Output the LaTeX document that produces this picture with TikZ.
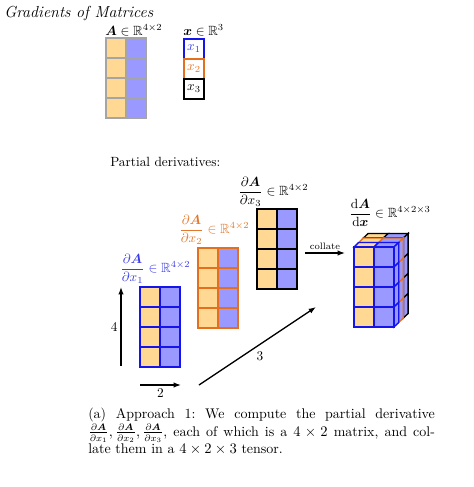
\documentclass[tikz,border=0pt]{standalone}
\usepackage{amsmath,amssymb}
\usetikzlibrary{arrows.meta}
\definecolor{cello}{RGB}{255,217,148}
\definecolor{cellb}{RGB}{153,153,255}
\definecolor{bordo}{RGB}{228,112,30}
\definecolor{bordb}{RGB}{20,20,235}
\definecolor{bordg}{RGB}{165,165,165}
\definecolor{labb}{RGB}{60,60,230}
\definecolor{labo}{RGB}{225,120,45}
\newcommand\drawmat[3]{%
  \foreach \j in {0,...,3}{%
    \filldraw[fill=cello,draw=#3,cellline] (#1,#2+20*\j) rectangle ++(20,20);
    \filldraw[fill=cellb,draw=#3,cellline] (#1+20,#2+20*\j) rectangle ++(20,20);
  }}
\begin{document}
\begin{tikzpicture}[x=0.75pt,y=-0.75pt,
  cellline/.style={line width=1pt},
  arr/.style={-{Latex[length=5.5pt,width=4pt]}, line width=1pt},
  lab/.style={inner sep=0pt, anchor=west, font=\normalsize},
  num/.style={inner sep=2pt, font=\normalsize}]
\useasboundingbox (0,0) rectangle (474,487);

\node[anchor=base west, inner sep=0pt, font=\fontsize{12}{14}\selectfont\itshape] (title) at (4,17) {Gradients of Matrices};

% matrix A
\drawmat{106}{38}{bordg}
\node[lab] (alab) at (105,30) {$\boldsymbol{A}\in\mathbb{R}^{4\times 2}$};

% vector x
\node[lab] (xlab) at (183,30) {$\boldsymbol{x}\in\mathbb{R}^{3}$};
\draw[draw=bordb, cellline, fill=white] (184,39) rectangle (204,59);
\draw[draw=bordo, cellline, fill=white] (184,59) rectangle (204,79);
\draw[draw=black, cellline, fill=white] (184,79) rectangle (204,99);
\node[text=labb, inner sep=0pt] (x1) at (194,49) {$x_1$};
\node[text=labo, inner sep=0pt] (x2) at (194,69) {$x_2$};
\node[text=black, inner sep=0pt] (x3) at (194,89) {$x_3$};

\node[anchor=west, inner sep=0pt] (pd) at (110,162) {Partial derivatives:};

% partial derivative matrices
\drawmat{257}{209}{black}
\drawmat{198}{248}{bordo}
\drawmat{140}{287}{bordb}
\node[lab, text=labb] (l1) at (120,269) {$\dfrac{\partial \boldsymbol{A}}{\partial x_1}\in\mathbb{R}^{4\times 2}$};
\node[lab, text=labo] (l2) at (179,230) {$\dfrac{\partial \boldsymbol{A}}{\partial x_2}\in\mathbb{R}^{4\times 2}$};
\node[lab, text=black] (l3) at (238,192) {$\dfrac{\partial \boldsymbol{A}}{\partial x_3}\in\mathbb{R}^{4\times 2}$};

% axis arrows
\coordinate (a4s) at (121,366);
\coordinate (a4e) at (121,287);
\draw[arr] (a4s) -- node[num, left] {4} (a4e);
\coordinate (a2s) at (140,385);
\coordinate (a2e) at (181,385);
\draw[arr] (a2s) -- node[num, below] {2} (a2e);
\coordinate (a3s) at (199,385);
\coordinate (a3e) at (316,307);
\draw[arr] (a3s) -- node[num, pos=0.52, below=3pt] {3} (a3e);

% collate
\coordinate (cs) at (305,253);
\coordinate (ce) at (345,253);
\draw[arr] (cs) -- node[above=1pt, inner sep=1pt, font=\scriptsize] {collate} (ce);

% tensor
\foreach \k/\c in {2/black,1/bordo,0/bordb}{%
  \filldraw[fill=cello,draw=\c,cellline] (354+4.7*\k,247-4.5*\k) -- ++(20,0) -- ++(4.7,-4.5) -- ++(-20,0) -- cycle;
  \filldraw[fill=cellb,draw=\c,cellline] (374+4.7*\k,247-4.5*\k) -- ++(20,0) -- ++(4.7,-4.5) -- ++(-20,0) -- cycle;
  \foreach \j in {0,...,3}{%
    \filldraw[fill=cellb,draw=\c,cellline] (394+4.7*\k,247-4.5*\k+20*\j) -- ++(0,20) -- ++(4.7,-4.5) -- ++(0,-20) -- cycle;
    \filldraw[fill=cello,draw=\c,cellline] (354+4.7*\k,247-4.5*\k+20*\j) rectangle ++(20,20);
    \filldraw[fill=cellb,draw=\c,cellline] (374+4.7*\k,247-4.5*\k+20*\j) rectangle ++(20,20);
  }
}
\node[lab] (tlab) at (349,213) {$\dfrac{\mathrm{d}\boldsymbol{A}}{\mathrm{d}\boldsymbol{x}}\in\mathbb{R}^{4\times 2\times 3}$};

% caption
\node[anchor=north west, inner sep=0pt, text width=260pt, align=justify,
      font=\fontsize{10.5}{13}\selectfont] (cap) at (88,408)
 {\frenchspacing\lineskiplimit=1.5pt\lineskip=2.5pt (a) Approach 1: We compute the partial derivative\linebreak
 $\frac{\partial \boldsymbol{A}}{\partial x_1}, \frac{\partial \boldsymbol{A}}{\partial x_2}, \frac{\partial \boldsymbol{A}}{\partial x_3}$, each of which is a $4\times 2$ matrix, and col-\linebreak
 late them in a $4\times 2\times 3$ tensor.};
\end{tikzpicture}
\end{document}
